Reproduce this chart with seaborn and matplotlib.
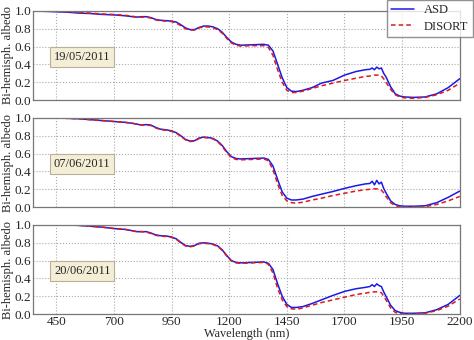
import matplotlib
matplotlib.use("Agg")
import matplotlib.pyplot as plt
import seaborn as sns
import pandas as pd

wl = [350, 400, 450, 500, 550, 600, 650, 700, 750, 780, 800, 820, 840, 860, 880, 900, 930, 950, 970, 990,
      1010, 1030, 1050, 1070, 1090, 1110, 1130, 1150, 1170, 1190, 1210, 1230, 1250, 1300, 1350, 1370, 1390,
      1410, 1430, 1450, 1470, 1490, 1520, 1560, 1600, 1650, 1700, 1750, 1790, 1810, 1820, 1830, 1840, 1850,
      1860, 1870, 1880, 1900, 1920, 1940, 1960, 2000, 2050, 2100, 2150, 2200]

asd_1905 = [1.00, 0.995, 0.99, 0.985, 0.975, 0.97, 0.96, 0.955, 0.945, 0.935, 0.93, 0.935, 0.935, 0.925, 0.905,
            0.895, 0.89, 0.885, 0.875, 0.845, 0.81, 0.79, 0.79, 0.815, 0.83, 0.83, 0.82, 0.80, 0.76, 0.70,
            0.65, 0.625, 0.615, 0.62, 0.625, 0.615, 0.55, 0.40, 0.25, 0.14, 0.10, 0.095, 0.11, 0.14, 0.19,
            0.22, 0.28, 0.32, 0.34, 0.345, 0.36, 0.34, 0.37, 0.35, 0.36, 0.30, 0.26, 0.15, 0.07, 0.045,
            0.035, 0.03, 0.035, 0.07, 0.14, 0.24]
dis_1905 = [1.00, 1.00, 0.995, 0.99, 0.98, 0.975, 0.965, 0.96, 0.95, 0.94, 0.93, 0.93, 0.93, 0.92, 0.90,
            0.89, 0.885, 0.88, 0.865, 0.835, 0.80, 0.785, 0.785, 0.81, 0.82, 0.82, 0.81, 0.79, 0.75, 0.69,
            0.64, 0.615, 0.605, 0.61, 0.61, 0.59, 0.50, 0.34, 0.20, 0.11, 0.085, 0.085, 0.10, 0.13, 0.16,
            0.19, 0.22, 0.245, 0.265, 0.27, 0.275, 0.28, 0.28, 0.28, 0.27, 0.24, 0.20, 0.12, 0.06, 0.035,
            0.025, 0.02, 0.03, 0.06, 0.11, 0.19]
asd_0706 = [1.00, 1.00, 1.00, 0.995, 0.99, 0.98, 0.97, 0.96, 0.95, 0.94, 0.93, 0.92, 0.925, 0.92, 0.895,
            0.875, 0.865, 0.855, 0.835, 0.80, 0.76, 0.74, 0.745, 0.775, 0.785, 0.78, 0.77, 0.74, 0.69, 0.62,
            0.565, 0.545, 0.54, 0.545, 0.55, 0.535, 0.46, 0.31, 0.17, 0.10, 0.08, 0.08, 0.09, 0.12, 0.145,
            0.175, 0.21, 0.24, 0.26, 0.265, 0.29, 0.25, 0.30, 0.26, 0.28, 0.21, 0.16, 0.07, 0.03, 0.015,
            0.01, 0.01, 0.015, 0.05, 0.11, 0.18]
dis_0706 = [1.00, 1.00, 1.00, 0.995, 0.99, 0.98, 0.97, 0.96, 0.95, 0.94, 0.93, 0.92, 0.92, 0.915, 0.89,
            0.87, 0.86, 0.85, 0.83, 0.795, 0.755, 0.735, 0.74, 0.77, 0.78, 0.775, 0.765, 0.735, 0.68, 0.61,
            0.555, 0.535, 0.53, 0.535, 0.54, 0.52, 0.42, 0.26, 0.13, 0.07, 0.05, 0.045, 0.055, 0.08, 0.10,
            0.13, 0.155, 0.18, 0.195, 0.20, 0.205, 0.205, 0.205, 0.20, 0.19, 0.16, 0.12, 0.05, 0.015, 0.005,
            0.0, 0.0, 0.005, 0.03, 0.07, 0.12]
asd_2006 = [1.00, 1.00, 1.00, 1.00, 0.995, 0.985, 0.975, 0.96, 0.95, 0.935, 0.925, 0.925, 0.925, 0.91, 0.89,
            0.88, 0.875, 0.865, 0.845, 0.805, 0.77, 0.76, 0.77, 0.795, 0.80, 0.795, 0.785, 0.765, 0.72, 0.655,
            0.60, 0.58, 0.575, 0.58, 0.585, 0.57, 0.50, 0.34, 0.20, 0.11, 0.075, 0.075, 0.085, 0.12, 0.16,
            0.21, 0.255, 0.285, 0.30, 0.31, 0.33, 0.31, 0.34, 0.32, 0.31, 0.25, 0.20, 0.10, 0.04, 0.02,
            0.01, 0.01, 0.015, 0.05, 0.11, 0.21]
dis_2006 = [1.00, 1.00, 1.00, 1.00, 0.995, 0.985, 0.975, 0.96, 0.95, 0.935, 0.925, 0.925, 0.92, 0.905, 0.885,
            0.875, 0.87, 0.86, 0.84, 0.80, 0.765, 0.755, 0.765, 0.79, 0.795, 0.79, 0.78, 0.76, 0.715, 0.65,
            0.595, 0.575, 0.57, 0.575, 0.58, 0.56, 0.46, 0.29, 0.16, 0.085, 0.06, 0.055, 0.07, 0.10, 0.13,
            0.16, 0.19, 0.22, 0.235, 0.245, 0.25, 0.25, 0.25, 0.25, 0.24, 0.20, 0.16, 0.07, 0.02, 0.005,
            0.0, 0.0, 0.01, 0.04, 0.09, 0.17]

dates = ["19/05/2011", "07/06/2011", "20/06/2011"]
series_names = ["ASD", "DISORT"]
xticks = [450, 700, 950, 1200, 1450, 1700, 1950, 2200]
yticks = [0.0, 0.2, 0.4, 0.6, 0.8, 1.0]

panels = [(asd_1905, dis_1905), (asd_0706, dis_0706), (asd_2006, dis_2006)]

sns.set_style("white")
plt.rcParams['font.family'] = ['Liberation Serif', 'DejaVu Serif']
plt.rcParams['mathtext.fontset'] = 'dejavuserif'

fig, axes = plt.subplots(3, 1, figsize=(4.74, 3.40), dpi=100, sharex=True)
fig.subplots_adjust(left=0.07, right=0.970, top=0.968, bottom=0.076, hspace=0.2)

for i, (ax, (a, d)) in enumerate(zip(axes, panels)):
    df = pd.DataFrame({
        "wl": wl + wl,
        "albedo": a + d,
        "series": [series_names[0]] * len(wl) + [series_names[1]] * len(wl),
    })
    sns.lineplot(data=df, x="wl", y="albedo", hue="series", style="series",
                 palette={"ASD": "#1a1ae6", "DISORT": "#dd1a1a"},
                 dashes={"ASD": "", "DISORT": (3, 2)},
                 linewidth=1.1, ax=ax, legend=(i == 0))
    ax.set_xlim(350, 2200)
    ax.set_ylim(0, 1.0)
    ax.set_xticks(xticks)
    ax.set_yticks(yticks)
    ax.set_yticklabels([f"{v:.1f}" for v in yticks], fontsize=9.5)
    ax.grid(True, linestyle=':', color='#aaaaaa', linewidth=0.8)
    ax.tick_params(length=0, pad=1.5)
    for s in ax.spines.values():
        s.set_color('#777777')
        s.set_linewidth(0.9)
    ax.set_ylabel("Bi-hemisph. albedo", fontsize=9)
    ax.yaxis.set_label_coords(-0.046, 0.5)
    ax.set_xlabel("")
    ax.text(0.115, 0.483, dates[i], transform=ax.transAxes, fontsize=9, ha='center', va='center',
            bbox=dict(boxstyle='square,pad=0.3', facecolor='#f4eed6', edgecolor='#b8b09a', linewidth=0.8))

handles, labels = axes[0].get_legend_handles_labels()
axes[0].get_legend().remove()
fig.legend(handles, labels, loc='upper right', bbox_to_anchor=(0.997, 1.0), fontsize=9,
           frameon=True, fancybox=False, edgecolor='#777777', borderpad=0.35, handlelength=1.8,
           handletextpad=0.8, labelspacing=0.35, borderaxespad=0)

axes[2].set_xticklabels([str(t) for t in xticks], fontsize=9.5)
axes[2].set_xlabel("Wavelength (nm)", fontsize=8.8, labelpad=0)

fig.savefig("out.png", dpi=100)
